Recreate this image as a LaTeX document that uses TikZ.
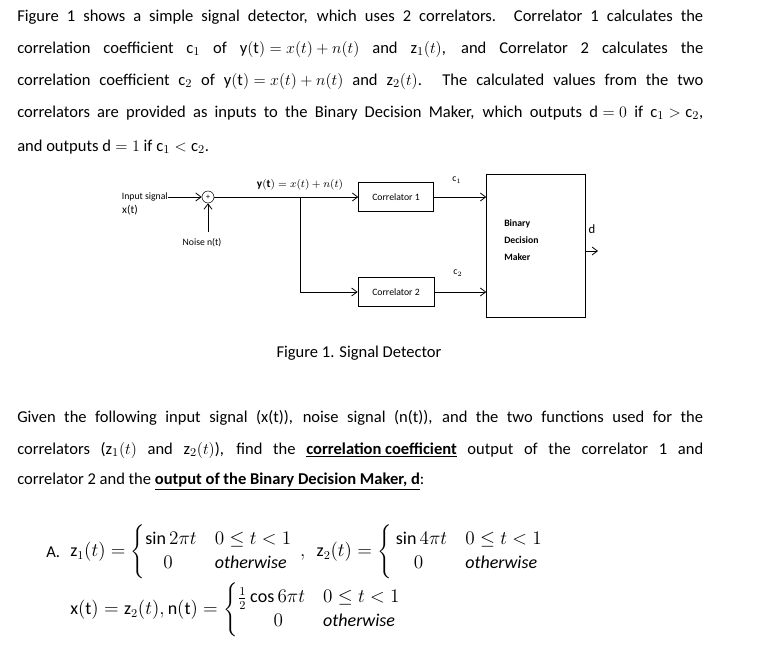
\documentclass[tikz,border=0pt]{standalone}
\usepackage{amsmath,amssymb}
\usepackage{fontspec}
\setmainfont{Carlito}
\usetikzlibrary{arrows.meta}
\thickmuskip=5mu
\medmuskip=4mu
\begin{document}
\begin{tikzpicture}[x=0.75pt,y=-0.75pt,
  txt/.style={anchor=west,inner sep=0pt,font=\fontsize{12.4}{14}\selectfont},
  blk/.style={draw,semithick,inner sep=0pt},
  small/.style={inner sep=0pt,font=\fontsize{7.3}{8}\selectfont},
  arr/.style={semithick,-{Straight Barb[length=4pt,width=6pt]}}]
\useasboundingbox (0,0) rectangle (760,650);
\newcommand{\jl}[1]{\hbox to 514.5pt{#1}}
\node[txt] (l1) at (17,17) {\jl{Figure 1 shows a simple signal detector, which uses 2 correlators. Correlator 1 calculates the}};
\node[txt] (l2) at (17,49) {\jl{correlation coefficient $\mathrm{c}_1$ of $\mathrm{y(t)}=x(t)+n(t)$ and $\mathrm{z}_1(t)$, and Correlator 2 calculates the}};
\node[txt] (l3) at (17,81) {\jl{correlation coefficient $\mathrm{c}_2$ of $\mathrm{y(t)}=x(t)+n(t)$ and $\mathrm{z}_2(t)$. The calculated values from the two}};
\node[txt] (l4) at (17,113) {\jl{correlators are provided as inputs to the Binary Decision Maker, which outputs $\mathrm{d}=0$ if $\mathrm{c}_1>\mathrm{c}_2$,}};
\node[txt] (l5) at (17,147) {and outputs $\mathrm{d}=1$ if $\mathrm{c}_1<\mathrm{c}_2$.};
% diagram
\node[small,anchor=east] (ins) at (168,197) {Input signal};
\node[small,font=\fontsize{8.5}{9}\selectfont] (xt) at (130,210) {x(t)};
\node[draw,circle,minimum size=9pt,inner sep=0pt,font=\fontsize{6}{6}\selectfont] (sum) at (208,197) {+};
\coordinate (nz) at (208,232);
\node[small] (nl) at (202,243) {Noise n(t)};
\node[blk,minimum width=56pt,minimum height=22pt,small] (c1) at (396,197) {Correlator 1};
\node[blk,minimum width=57pt,minimum height=22pt,small] (c2) at (396,292) {Correlator 2};
\node[blk,minimum width=74pt,minimum height=107pt] (bd) at (536,246) {};
\node[small,font=\bfseries\fontsize{7.3}{8}\selectfont,align=left,anchor=west] (bdt) at (504,240) {Binary\\[5pt]Decision\\[5pt]Maker};
\coordinate (br) at (300,197);
\coordinate (bb) at (300,292);
\coordinate (dout) at (598,251);
\draw[arr] (ins.east) -- (sum.west);
\draw[arr] (nz) -- (sum.south);
\draw[arr] (sum.east) -- (c1.west);
\draw[arr] (br) -- (bb) -- (c2.west);
\draw[arr] (c1.east) -- (c1.east -| bd.west);
\draw[arr] (c2.east) -- (c2.east -| bd.west);
\draw[arr] (bd.east |- dout) -- (dout);
\node[small,font=\fontsize{8.5}{9}\selectfont] (yl) at (300,185) {$\mathbf{y(t)}=x(t)+n(t)$};
\node[small] (c1l) at (457,180) {$\mathrm{c}_1$};
\node[small] (c2l) at (458,273) {$\mathrm{c}_2$};
\node[small,font=\fontsize{9.5}{9}\selectfont] (dl) at (592,229) {$\mathrm{d}$};
\node[txt,anchor=center] (cap) at (359,353) {Figure 1. Signal Detector};
% second paragraph
\node[txt] (m1) at (17,418) {\jl{Given the following input signal (x(t)), noise signal (n(t)), and the two functions used for the}};
\node[txt] (m2) at (17,450) {\jl{correlators ($\mathrm{z}_1(t)$ and $\mathrm{z}_2(t)$), find the \textbf{\underline{correlation coefficient}} output of the correlator 1 and}};
\node[txt] (m3) at (17,482) {correlator 2 and the \textbf{\underline{output of the Binary Decision Maker, d}}:};
\node[txt] (ea) at (46,552) {A.};
\node[txt,font=\fontsize{13.5}{15}\selectfont] (e1) at (70,552) {$\mathrm{z}_1(t)=\begin{cases}\sin 2\pi t & 0\le t<1\\ \quad 0 & \mathit{otherwise}\end{cases}\ ,\ \ \mathrm{z}_2(t)=\begin{cases}\ \sin 4\pi t & 0\le t<1\\ \quad\ 0 & \mathit{otherwise}\end{cases}$};
\node[txt,font=\fontsize{13.5}{15}\selectfont] (e2) at (70,610) {$\mathrm{x(t)}=\mathrm{z}_2(t),\mathrm{n(t)}=\begin{cases}\frac12\cos 6\pi t & 0\le t<1\\ \qquad 0 & \mathit{otherwise}\end{cases}$};
\end{tikzpicture}
\end{document}
